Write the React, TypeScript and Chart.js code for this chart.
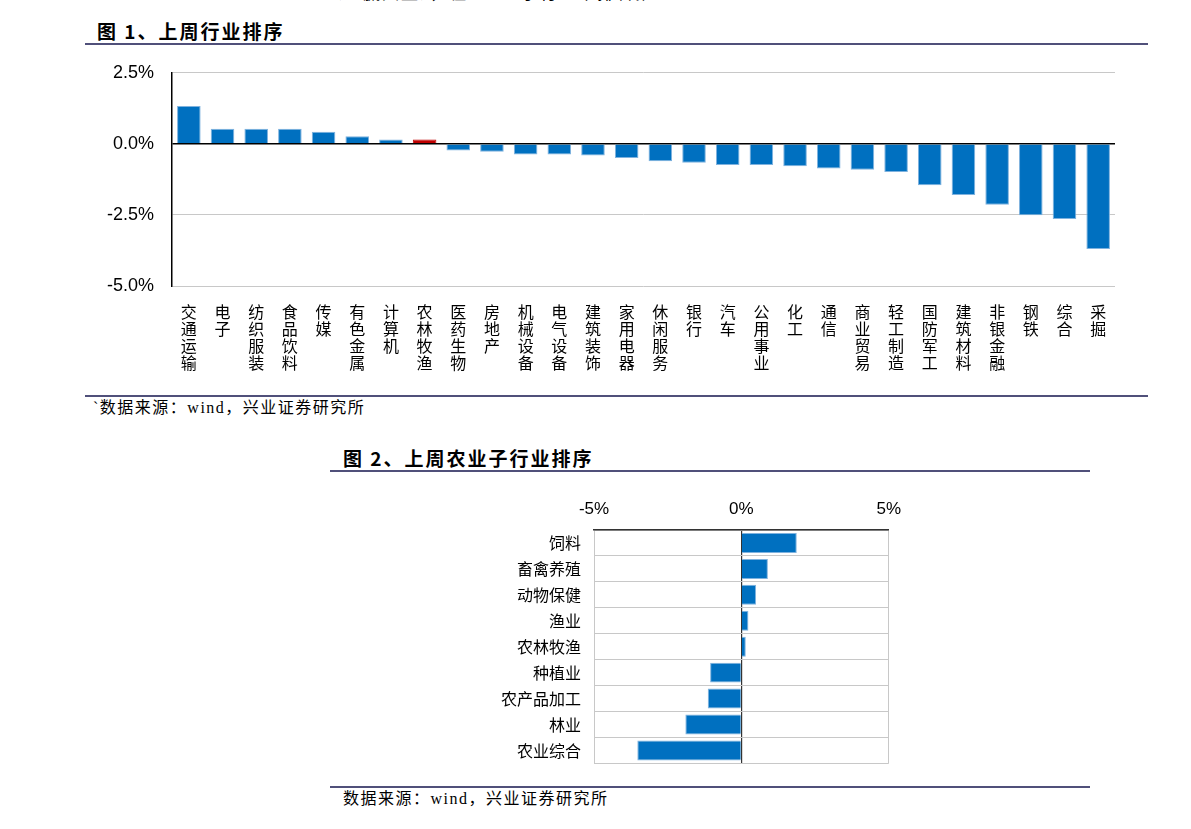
import React, { useEffect, useRef } from "react";
import { Chart, registerables } from "chart.js";

Chart.register(...registerables);

// 上周行业排序（周涨跌幅，%）
const industries = [
  "交通运输", "电子", "纺织服装", "食品饮料", "传媒", "有色金属", "计算机", "农林牧渔",
  "医药生物", "房地产", "机械设备", "电气设备", "建筑装饰", "家用电器", "休闲服务", "银行",
  "汽车", "公用事业", "化工", "通信", "商业贸易", "轻工制造", "国防军工", "建筑材料",
  "非银金融", "钢铁", "综合", "采掘",
];
const industryReturns = [
  1.33, 0.53, 0.53, 0.53, 0.43, 0.27, 0.15, 0.15,
  -0.23, -0.28, -0.37, -0.37, -0.41, -0.5, -0.61, -0.66,
  -0.74, -0.74, -0.79, -0.87, -0.91, -0.99, -1.46, -1.8,
  -2.14, -2.51, -2.64, -3.7,
];
const highlightIndustry = "农林牧渔";
const industryTicks = [-5, -2.5, 0, 2.5];

// 上周农业子行业排序（周涨跌幅，%）
const subIndustries = ["饲料", "畜禽养殖", "动物保健", "渔业", "农林牧渔", "种植业", "农产品加工", "林业", "农业综合"];
const subIndustryReturns = [1.88, 0.9, 0.5, 0.24, 0.15, -1.06, -1.14, -1.9, -3.53];
const subIndustryTicks = [-5, 0, 5];

const BLUE = "#0070C0";
const BLUE_EDGE = "#7FB2DE";
const RED = "#C00000";
const GRID = "#C8C8C8";
const RULE = "#50507A";
const CJK = '"Noto Sans CJK SC", sans-serif';
const BODY = '"Liberation Serif", "Noto Sans CJK SC", serif';
const NUM = '"Liberation Sans", Arial, sans-serif';

function IndustryChart() {
  const ref = useRef<HTMLCanvasElement | null>(null);
  useEffect(() => {
    if (!ref.current) return;
    const chart = new Chart(ref.current, {
      type: "bar",
      data: {
        labels: industries.map((s) => s.split("")),
        datasets: [
          {
            data: industryReturns,
            backgroundColor: industries.map((n) => (n === highlightIndustry ? RED : BLUE)),
            borderColor: industries.map((n) => (n === highlightIndustry ? RED : BLUE_EDGE)),
            borderWidth: 1,
            categoryPercentage: 1,
            barPercentage: 0.7,
          },
        ],
      },
      options: {
        animation: false,
        responsive: false,
        maintainAspectRatio: false,
        layout: { padding: { left: 0, right: 15, top: 12, bottom: 0 } },
        plugins: { legend: { display: false }, tooltip: { enabled: false } },
        scales: {
          x: {
            grid: { display: false },
            border: { display: false },
            ticks: {
              autoSkip: false,
              maxRotation: 0,
              minRotation: 0,
              padding: 9,
              color: "#000",
              font: { family: CJK, size: 16, lineHeight: 1.07 },
            },
            afterFit: (s: any) => {
              s.height = 94;
            },
          },
          y: {
            min: -5,
            max: 2.5,
            afterBuildTicks: (s: any) => {
              s.ticks = industryTicks.map((v) => ({ value: v }));
            },
            grid: {
              drawTicks: false,
              color: (c: any) => (c.tick && c.tick.value === 0 ? "#000" : GRID),
              lineWidth: (c: any) => (c.tick && c.tick.value === 0 ? 1.5 : 1),
            },
            border: { display: true, color: "#000", width: 1.5 },
            ticks: {
              padding: 18,
              color: "#000",
              font: { family: NUM, size: 18 },
              callback: (v: any) => Number(v).toFixed(1) + "%",
            },
            afterFit: (s: any) => {
              s.width = 82;
            },
          },
        },
      },
    });
    return () => chart.destroy();
  }, []);
  return <canvas ref={ref} width={1040} height={336} style={{ position: "absolute", left: 90, top: 44 }} />;
}

function SubIndustryChart() {
  const ref = useRef<HTMLCanvasElement | null>(null);
  useEffect(() => {
    if (!ref.current) return;
    const chart = new Chart(ref.current, {
      type: "bar",
      data: {
        labels: subIndustries,
        datasets: [
          {
            data: subIndustryReturns,
            backgroundColor: BLUE,
            borderColor: BLUE_EDGE,
            borderWidth: 1,
            categoryPercentage: 1,
            barPercentage: 0.77,
          },
        ],
      },
      options: {
        indexAxis: "y",
        animation: false,
        responsive: false,
        maintainAspectRatio: false,
        layout: { padding: { left: 0, right: 12, top: 0, bottom: 10 } },
        plugins: { legend: { display: false }, tooltip: { enabled: false } },
        scales: {
          x: {
            position: "top",
            min: -5,
            max: 5,
            afterBuildTicks: (s: any) => {
              s.ticks = subIndustryTicks.map((v) => ({ value: v }));
            },
            grid: {
              drawTicks: false,
              color: (c: any) => (c.tick && c.tick.value === 0 ? "#333" : GRID),
              lineWidth: (c: any) => (c.tick && c.tick.value === 0 ? 1.2 : 1),
            },
            border: { display: true, color: "#333", width: 1.5 },
            ticks: {
              padding: 10,
              color: "#000",
              font: { family: NUM, size: 17 },
              callback: (v: any) => v + "%",
            },
            afterFit: (s: any) => {
              s.height = 40;
            },
          },
          y: {
            grid: { offset: true, drawTicks: false, color: GRID },
            border: { display: false },
            ticks: {
              padding: 13,
              color: "#000",
              font: { family: CJK, size: 16 },
            },
            afterFit: (s: any) => {
              s.width = 114;
            },
          },
        },
      },
    });
    return () => chart.destroy();
  }, []);
  return <canvas ref={ref} width={431} height={296} style={{ position: "absolute", left: 480, top: 490 }} />;
}

const titleStyle: React.CSSProperties = {
  position: "absolute",
  fontFamily: CJK,
  fontWeight: 700,
  fontSize: 19,
  letterSpacing: 2,
  lineHeight: "22px",
  color: "#000",
  whiteSpace: "pre",
};
const sourceStyle: React.CSSProperties = {
  position: "absolute",
  fontFamily: BODY,
  fontSize: 16,
  letterSpacing: 1.5,
  lineHeight: "18px",
  color: "#000",
  whiteSpace: "pre",
};
const rule = (left: number, top: number, width: number): React.CSSProperties => ({
  position: "absolute",
  left,
  top,
  width,
  height: 2,
  background: RULE,
});

export default function App() {
  return (
    <div
      style={{
        position: "absolute",
        left: 0,
        top: 0,
        width: 1191,
        height: 829,
        background: "#fff",
        overflow: "hidden",
      }}
    >
      <div style={{ ...sourceStyle, left: 325, top: -16, fontSize: 17, letterSpacing: 2, lineHeight: "20px" }}>
        （跑赢大盘），在 28 个子行业中排名第 8。
      </div>

      <div style={{ ...titleStyle, left: 97, top: 20 }}>图 1、上周行业排序</div>
      <div style={rule(85, 43, 1063)} />
      <IndustryChart />
      <div style={rule(85, 395, 1063)} />
      <div style={{ ...sourceStyle, left: 93, top: 399 }}>`数据来源：wind，兴业证券研究所</div>

      <div style={{ ...titleStyle, left: 343, top: 447 }}>图 2、上周农业子行业排序</div>
      <div style={rule(330, 470, 760)} />
      <SubIndustryChart />
      <div style={rule(330, 786, 760)} />
      <div style={{ ...sourceStyle, left: 343, top: 790 }}>数据来源：wind，兴业证券研究所</div>
    </div>
  );
}
